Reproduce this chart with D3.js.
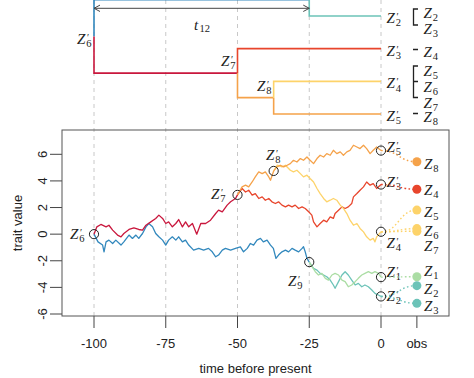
<!DOCTYPE html>
<html><head><meta charset="utf-8">
<script src="https://cdn.jsdelivr.net/npm/d3@7"></script>
<style>html,body{margin:0;padding:0;background:#fff;}</style>
</head><body>
<svg id="chart" width="474" height="378"></svg>
<script>
// ---------------- DATA ----------------
const xTickValues = [-100, -75, -50, -25, 0];
const xTickLabels = ["-100", "-75", "-50", "-25", "0"];
const obsTime = 12.5;
const obsLabel = "obs";
const yTickValues = [-6, -4, -2, 0, 2, 4, 6];

// ancestral / tip nodes (Z'k)
const nodeIds    = [6, 7, 8, 9, 1, 2, 3, 4, 5];
const nodeTimes  = [-100, -50, -37.4, -25, 0, 0, 0, 0, 0];
const nodeValues = [0, 2.95, 4.75, -2.1, -3.23, -4.68, 3.73, 0.18, 6.28];
// tree edges: parent -> child
const edgeParent = [6, 6, 9, 9, 7, 7, 8, 8];
const edgeChild  = [9, 7, 1, 2, 3, 8, 5, 4];
const tipOrder   = [1, 2, 3, 4, 5];

// observations Z1..Z8 and the tip each hangs from
const obsIds    = [1, 2, 3, 4, 5, 6, 7, 8];
const obsValues = [-3.2, -3.87, -5.2, 3.37, 1.81, 0.42, 0.22, 5.44];
const obsTip    = [1, 2, 2, 3, 4, 4, 4, 5];

// trait paths (time, value)
const pathBlue = [[-100,0],[-98.6,-0.58],[-97,-0.82],[-96.5,-1.33],[-95.8,-0.58],[-94.8,-0.45],[-93.5,-0.7],[-92.4,-0.45],[-90.6,-0.82],[-89.6,-0.58],[-87.8,-0.07],[-86.6,-0.32],[-85.4,-0.07],[-84.4,-0.32],[-83.1,0.05],[-81.9,0.55],[-80.9,0.8],[-79.6,0.55],[-78.5,0.05],[-77.4,-0.2],[-76.1,-0.45],[-75,-0.82],[-74,-0.45],[-72.7,-0.2],[-71.5,-0.45],[-70.5,-0.2],[-69.2,-0.58],[-68.1,-0.45],[-67,-0.82],[-65.3,-1.2],[-63.5,-1.07],[-61.8,-1.2],[-60.1,-1.07],[-58.8,-1.33],[-57.6,-1.7],[-56.6,-1.57],[-55.3,-1.2],[-54.2,-1.07],[-52.4,-1.2],[-50.7,-1.07],[-49,-0.95],[-47.9,-1.33],[-46.6,-1.07],[-45.5,-0.7],[-44.4,-0.82],[-43.2,-0.45],[-42,-0.32],[-41,-0.58],[-39.7,-0.45],[-38.5,-0.82],[-37.5,-1.07],[-36.6,-1.82],[-35.7,-1.57],[-34.5,-1.33],[-33.3,-1.2],[-32.2,-1.33],[-31,-1.07],[-29.9,-1.2],[-28.7,-1.33],[-27.5,-1.07],[-27,-0.95],[-26.4,-1.33],[-25.8,-1.82],[-25,-2.1]];
const pathRed = [[-100,0],[-99,0.55],[-97.6,0.73],[-95.8,0.55],[-94.8,0.67],[-93.5,0.3],[-91.8,-0.07],[-90.6,-0.2],[-89.6,0.05],[-87.8,0.35],[-86.1,0.47],[-84.4,0.35],[-83.1,0.3],[-81.9,0.67],[-80.2,0.92],[-78.5,1.18],[-77.4,1.43],[-76.1,1.18],[-75,0.8],[-74,0.92],[-72.7,0.55],[-71.5,0.8],[-70.5,1.1],[-69.2,0.55],[-68.1,0.92],[-67,0.55],[-65.7,0.8],[-64.2,0],[-62.8,0.8],[-61.1,0.8],[-59.4,1.05],[-57.6,1.55],[-56.6,1.8],[-55.3,1.67],[-53.6,2.18],[-52.4,2.43],[-50.7,2.68],[-50,2.95]];
const pathGreen = [[-25,-2.1],[-22.9,-2.82],[-21.8,-3.07],[-20.6,-2.95],[-19.4,-3.32],[-18.3,-3.45],[-17.1,-3.07],[-16,-2.95],[-14.8,-3.07],[-13.6,-3.45],[-12.5,-3.57],[-11.4,-3.95],[-10.2,-3.82],[-9,-3.57],[-7.9,-3.32],[-6.7,-3.07],[-5.6,-2.95],[-4.4,-2.82],[-3.2,-2.95],[-2.1,-2.82],[-0.9,-2.95],[0,-3.23]];
const pathTeal = [[-25,-2.1],[-23.5,-2.57],[-22.3,-2.7],[-21.2,-2.95],[-20,-3.07],[-18.9,-3.2],[-17.7,-3.45],[-16.6,-3.82],[-16,-4.07],[-14.8,-3.57],[-13.6,-3.07],[-12.5,-2.82],[-11.4,-3.07],[-10.2,-3.45],[-9,-3.82],[-7.9,-3.7],[-6.7,-3.95],[-5.6,-3.82],[-4.4,-3.95],[-3.2,-4.2],[-2.1,-4.45],[-0.9,-4.57],[0,-4.68]];
const pathOrangeA = [[-50,2.95],[-48.4,3.55],[-47.2,3.68],[-46.1,3.55],[-44.9,3.92],[-43.8,4.3],[-42.6,4.68],[-41.4,4.55],[-40.3,4.68],[-39.1,4.3],[-38.5,4.05],[-37.4,4.75]];
const pathRedOrange = [[-50,2.95],[-48.4,3.43],[-47.2,3.17],[-46.1,3.3],[-44.9,2.93],[-43.8,3.05],[-42.6,2.68],[-41.4,2.8],[-40.3,2.55],[-39.1,2.68],[-38,2.43],[-36.8,2.3],[-35.7,2.43],[-34.5,2.18],[-33.3,2.05],[-32.2,2.18],[-31,2.05],[-29.9,2.18],[-28.7,1.93],[-27.5,2.05],[-26.4,1.93],[-25.2,1.68],[-24.1,1.43],[-23.5,0.92],[-22.3,0.55],[-21.2,0.8],[-20,1.05],[-18.9,0.92],[-17.7,1.3],[-16.6,1.18],[-16,1.55],[-14.8,1.8],[-13.6,2.05],[-12.5,1.93],[-11.4,2.05],[-10.2,2.3],[-9.6,2.8],[-8.4,3.05],[-7.3,3.3],[-6.1,3.55],[-5,3.92],[-3.8,3.68],[-2.7,3.8],[-1.5,3.43],[0,3.73]];
const pathOrangeB = [[-37.4,4.75],[-36.2,5.05],[-35.1,5.18],[-33.9,5.05],[-32.7,5.18],[-31.6,5.3],[-30.5,5.55],[-29.3,5.42],[-28.1,5.68],[-27,5.55],[-25.8,5.8],[-24.7,5.55],[-23.5,5.3],[-22.3,5.68],[-21.2,5.93],[-20,5.8],[-18.9,6.05],[-17.7,5.93],[-16.6,6.3],[-15.4,6.05],[-14.2,6.18],[-13.1,5.93],[-11.9,6.18],[-10.8,6.3],[-9.6,6.68],[-8.4,6.55],[-7.3,6.43],[-6.1,6.68],[-5,6.43],[-3.8,6.05],[-2.7,6.3],[-1.5,6.55],[0,6.28]];
const pathYellow = [[-37.4,4.75],[-36.2,5.18],[-34.5,5.05],[-33.3,5.18],[-31.6,4.8],[-30.5,4.68],[-29.3,4.8],[-28.1,4.55],[-27,4.3],[-25.8,4.43],[-24.7,4.18],[-23.5,3.92],[-22.3,3.43],[-21.2,3.05],[-20,2.68],[-18.9,2.43],[-17.7,2.55],[-16.6,2.68],[-15.4,2.55],[-14.2,2.18],[-13.1,1.93],[-11.9,1.55],[-10.8,1.05],[-9.6,0.67],[-8.4,0.8],[-7.3,0.43],[-6.1,0.17],[-5,-0.2],[-3.8,-0.45],[-2.7,-0.32],[-2.1,-0.58],[-1.5,-0.2],[0,0.18]];

// ---------------- STYLE ----------------
const colors = {9:"#3288bd", 7:"#c9173d", 1:"#abdda4", 2:"#6cc3b8", 3:"#e8452c", 8:"#f5a24a", 5:"#f5a24a", 4:"#fdd36a"};
const paths = [[pathBlue,9],[pathRed,7],[pathTeal,2],[pathGreen,1],[pathRedOrange,3],[pathYellow,4],[pathOrangeA,8],[pathOrangeB,5]];
const serif = "'Liberation Serif','DejaVu Serif',serif";
const sans = "'Liberation Sans',Arial,sans-serif";
const ink = "#222";

const svg = d3.select("#chart");
const x = d3.scaleLinear().domain([-100, 0]).range([94, 381]);
const y = d3.scaleLinear().domain([-6, 6]).range([314, 154.3]);
const yTree = d3.scaleLinear().domain([0, 4]).range([-16.7, 114]);
const box = {l: 62, t: 130, r: 449, b: 316};

// dashed vertical guides
svg.append("g").selectAll("line").data(xTickValues).join("line")
  .attr("x1", d => x(d)).attr("x2", d => x(d)).attr("y1", 0).attr("y2", box.b)
  .attr("stroke", "#c8c8c8").attr("stroke-width", 1).attr("stroke-dasharray", "4,4");

// ---------------- TREE ----------------
const nodeTime = {}; nodeIds.forEach((id, i) => nodeTime[id] = nodeTimes[i]);
const nodeVal = {}; nodeIds.forEach((id, i) => nodeVal[id] = nodeValues[i]);
const treeY = {};
tipOrder.forEach((id, i) => treeY[id] = yTree(i));
function ty(id) {
  if (treeY[id] !== undefined) return treeY[id];
  const kids = edgeChild.filter((c, i) => edgeParent[i] === id);
  treeY[id] = d3.mean(kids, ty);
  return treeY[id];
}
ty(6);
const tree = svg.append("g").attr("fill", "none").attr("stroke-width", 1.6);
edgeChild.forEach((c, i) => {
  const p = edgeParent[i];
  tree.append("path")
    .attr("d", `M${x(nodeTime[p])},${treeY[p]}V${treeY[c]}H${x(nodeTime[c])}`)
    .attr("stroke", colors[c]);
});

// t12 arrow
const arrowY = 8.3;
const ax1 = x(-100), ax2 = x(-25);
svg.append("path")
  .attr("d", `M${ax1},${arrowY}H${ax2}M${ax1+6},${arrowY-3.2}L${ax1},${arrowY}L${ax1+6},${arrowY+3.2}M${ax2-6},${arrowY-3.2}L${ax2},${arrowY}L${ax2-6},${arrowY+3.2}`)
  .attr("fill", "none").attr("stroke", "#444").attr("stroke-width", 1);
const tl = svg.append("text").attr("x", 194).attr("y", 29.5).attr("fill", ink).attr("font-family", serif);
tl.append("tspan").attr("font-style", "italic").attr("font-size", 15).text("t");
tl.append("tspan").attr("x", 199.5).attr("dy", 2.5).attr("font-size", 10.5).text("12");

// Z label helper: one text element; lx = left of Z, yc = vertical centre of Z glyph
function zlabel(g, lx, yc, sub, prime) {
  const base = yc + 5;
  const t = g.append("text").attr("x", lx).attr("y", base).attr("fill", ink).attr("font-family", serif);
  t.append("tspan").attr("font-style", "italic").attr("font-size", 15).text("Z");
  if (prime) {
    t.append("tspan").attr("x", lx + 10).attr("dy", -3).attr("font-size", 10).text("′");
    t.append("tspan").attr("x", lx + 9.3).attr("dy", 6.3).attr("font-size", 10.5).text(sub);
  } else {
    t.append("tspan").attr("x", lx + 9.3).attr("dy", 3.3).attr("font-size", 10.5).text(sub);
  }
}
const labels = svg.append("g");
// tree labels
zlabel(labels, 77, 38.5, "6", true);
zlabel(labels, 221, 61, "7", true);
zlabel(labels, 257, 86, "8", true);
[2, 3, 4, 5].forEach(id => zlabel(labels, 386.5, treeY[id] + 2, String(id), true));
// right side Z lists
const treeObsY = {2: 12.5, 3: 28.5, 4: 51.5, 5: 70.5, 6: 87, 7: 102.5, 8: 117};
Object.keys(treeObsY).forEach(k => zlabel(labels, 423.5, treeObsY[k], k, false));
svg.append("path")
  .attr("d", "M418,9H413.5V25H418 M418,66H413.5V97.5H418 M413.5,81.5H418 M413,49.5H418 M413,113.5H418")
  .attr("fill", "none").attr("stroke", ink).attr("stroke-width", 1.3);

// ---------------- BOTTOM PANEL ----------------
const axes = svg.append("g").attr("stroke", "#444").attr("stroke-width", 1);
axes.selectAll("line.xt").data(xTickValues.concat([obsTime])).join("line")
  .attr("x1", d => x(d)).attr("x2", d => x(d)).attr("y1", box.b).attr("y2", box.b + 12);
axes.selectAll("line.yt").data(yTickValues).join("line")
  .attr("x1", box.l - 12).attr("x2", box.l).attr("y1", d => y(d)).attr("y2", d => y(d));
svg.append("rect").attr("x", box.l).attr("y", box.t).attr("width", box.r - box.l).attr("height", box.b - box.t)
  .attr("fill", "none").attr("stroke", "#555").attr("stroke-width", 1);

const tickText = svg.append("g").attr("fill", ink).attr("font-family", sans).attr("font-size", 13);
tickText.selectAll("text.x").data(xTickValues.map((d, i) => [d, xTickLabels[i]]).concat([[obsTime, obsLabel]])).join("text")
  .attr("x", d => x(d[0])).attr("y", 348).attr("text-anchor", "middle").text(d => d[1]);
tickText.selectAll("text.y").data(yTickValues).join("text")
  .attr("transform", d => `translate(46.5,${y(d)}) rotate(-90)`).attr("text-anchor", "middle").text(d => String(d));
tickText.append("text").attr("x", (box.l + box.r) / 2).attr("y", 373).attr("text-anchor", "middle").text("time before present");
tickText.append("text").attr("transform", `translate(21.5,${(box.t + box.b) / 2}) rotate(-90)`).attr("text-anchor", "middle").text("trait value");

// dotted connectors tip -> obs
const link = d3.linkHorizontal();
const conn = svg.append("g").attr("fill", "none").attr("stroke-width", 1.4).attr("stroke-dasharray", "1.6,2.4");
obsIds.forEach((id, i) => {
  const tip = obsTip[i];
  conn.append("path")
    .attr("d", link({source: [x(0), y(nodeVal[tip])], target: [x(obsTime), y(obsValues[i])]}))
    .attr("stroke", colors[tip]);
});

// trait paths
const line = d3.line().x(d => x(d[0])).y(d => y(d[1]));
const trace = svg.append("g").attr("fill", "none").attr("stroke-width", 1.3).attr("stroke-linejoin", "round");
paths.forEach(([p, c]) => trace.append("path").attr("d", line(p)).attr("stroke", colors[c]));

// obs dots
svg.append("g").selectAll("circle").data(obsIds).join("circle")
  .attr("cx", x(obsTime)).attr("cy", (d, i) => y(obsValues[i])).attr("r", 4.5)
  .attr("fill", (d, i) => colors[obsTip[i]]);

// node circles
svg.append("g").selectAll("circle").data(nodeIds).join("circle")
  .attr("cx", (d, i) => x(nodeTimes[i])).attr("cy", (d, i) => y(nodeValues[i])).attr("r", 4.6)
  .attr("fill", "none").attr("stroke", "#222").attr("stroke-width", 1);

// node labels in panel
zlabel(labels, 70, 234, "6", true);
zlabel(labels, 211, 194, "7", true);
zlabel(labels, 266, 154.5, "8", true);
zlabel(labels, 288, 280.5, "9", true);
zlabel(labels, 386.5, 146.5, "5", true);
zlabel(labels, 386.5, 181.5, "3", true);
zlabel(labels, 386.5, 243, "4", true);
zlabel(labels, 386.5, 272, "1", true);
zlabel(labels, 386.5, 296, "2", true);
// obs labels
const obsLabelY = {8: 163.5, 4: 190, 5: 212, 6: 230.5, 7: 246, 1: 271, 2: 289, 3: 305.5};
Object.keys(obsLabelY).forEach(k => zlabel(labels, 424, obsLabelY[k], k, false));
</script>
</body></html>
